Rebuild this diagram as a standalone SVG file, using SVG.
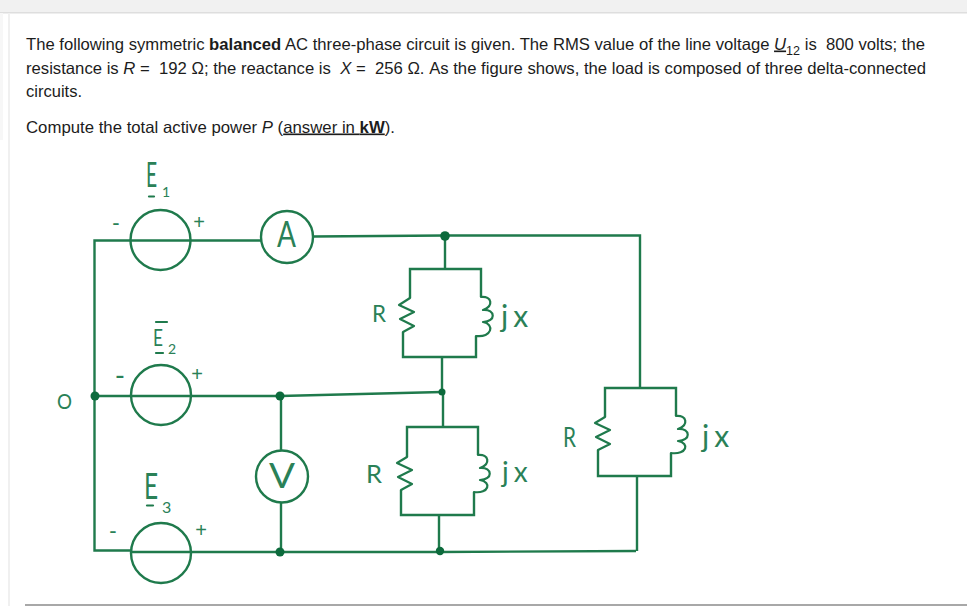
<svg xmlns="http://www.w3.org/2000/svg" width="967" height="606" viewBox="0 0 967 606">
<style>
.t{font-family:"Liberation Sans",Arial,sans-serif;font-size:16.500px;fill:#1c1c1c}
.w{fill:none;stroke:#1f7a4c;stroke-width:2.4;stroke-linejoin:miter}
.c{fill:none;stroke:#1f7a4c;stroke-width:2.2;stroke-linejoin:round;stroke-linecap:round}
.d{fill:#0c6a3c}
.h{font-family:"Lato","Liberation Sans",sans-serif;fill:#2a8157;font-weight:400}
.s{font-family:"Liberation Sans",sans-serif;fill:#2a8157;text-anchor:middle}
</style>
<rect width="967" height="606" fill="#fff"/>
<rect width="967" height="12" fill="#f1f1f1"/>
<rect y="12" width="967" height="1.500" fill="#dedede"/>
<rect x="8" y="13" width="2" height="593" fill="#f0f0f0"/>
<rect x="0" y="13" width="3" height="127" fill="#f7f7f7"/>
<rect x="25" y="604" width="942" height="2" fill="#a8a8a8"/>
<g id="question">
<text class="t" x="26" y="49.500" textLength="899" lengthAdjust="spacingAndGlyphs" xml:space="preserve">The following symmetric <tspan font-weight="700">balanced</tspan> AC three-phase circuit is given. The RMS value of the line voltage <tspan font-style="italic" text-decoration="underline">U</tspan><tspan font-size="12.500" dy="5">12</tspan><tspan dy="-5"> is  800 volts; the</tspan></text>
<text class="t" x="26" y="73.500" textLength="900" lengthAdjust="spacingAndGlyphs" xml:space="preserve">resistance is <tspan font-style="italic">R</tspan> =  192 Ω; the reactance is  <tspan font-style="italic">X</tspan> =  256 Ω. As the figure shows, the load is composed of three delta-connected</text>
<text class="t" x="26" y="97" textLength="56" lengthAdjust="spacingAndGlyphs">circuits.</text>
<text class="t" x="26" y="132.500" textLength="369" lengthAdjust="spacingAndGlyphs">Compute the total active power <tspan font-style="italic">P</tspan> (<tspan text-decoration="underline">answer in <tspan font-weight="700">kW</tspan></tspan>).</text>
</g>
<g id="connectors">
<path class="w" d="M131 240.500H94.500V396M94.500 396V550.500H131"/>
<path class="w" d="M190 240.500H261M313 236.500L445 235.500H640V388"/>
<path class="w" d="M95 396H131M191 396H280L442 392"/>
<path class="w" d="M191 552H280H440L636 551"/>
<path class="w" d="M281 396V451M281 503V552"/>
<path class="w" d="M445 236V269M442 357V392M443 392V427M439 515V551M637 476V551"/>
</g>
<g id="E1"><circle class="w" cx="160.500" cy="240" r="30"/><path class="w" d="M130 240.500H191"/>
<text class="h" transform="translate(146 187) scale(.55 1)" font-size="35">E</text><text class="h" x="162" y="197" font-size="14">1</text><path class="c" d="M149 196.500h5"/>
<text class="s" x="116" y="230" font-size="22">-</text><text class="s" x="199" y="229" font-size="20">+</text></g>
<g id="E2"><circle class="w" cx="161" cy="395" r="30"/><path class="w" d="M131 396H191"/>
<text class="h" transform="translate(153 346) scale(.75 1)" font-size="23">E</text><text class="h" x="168" y="354" font-size="14">2</text><path class="c" d="M156 322h11M156 353h7"/>
<text class="s" x="120" y="384" font-size="28">-</text><text class="s" x="197" y="381" font-size="20">+</text></g>
<g id="E3"><circle class="w" cx="161" cy="553" r="30"/><path class="w" d="M131 552H191"/>
<text class="h" transform="translate(144 499) scale(.68 1)" font-size="36">E</text><text class="h" x="162" y="513" font-size="16">3</text><path class="c" d="M147 505.500h6"/>
<text class="s" x="113" y="538" font-size="22">-</text><text class="s" x="201" y="537" font-size="20">+</text></g>
<g id="A"><circle class="w" cx="287" cy="237" r="26"/><text class="h" x="277" y="247" font-size="37" textLength="19" lengthAdjust="spacingAndGlyphs">A</text></g>
<g id="V"><circle class="w" cx="282" cy="476.500" r="26"/><text class="h" x="269" y="488" font-size="35" textLength="26" lengthAdjust="spacingAndGlyphs">V</text></g>
<g id="O"><text class="h" x="57" y="409" font-size="22" textLength="15" lengthAdjust="spacingAndGlyphs">O</text><circle class="d" cx="95" cy="396" r="4.500"/></g>
<g id="nodes">
<circle class="d" cx="280" cy="396" r="4.500"/><circle class="d" cx="280" cy="552" r="4.500"/>
<circle class="d" cx="445" cy="236" r="4.800"/><circle class="d" cx="442" cy="392" r="3.500"/><circle class="d" cx="440" cy="551" r="4.200"/>
</g>
<g id="load1">
<path class="w" d="M403 332V357H476V336M410 298V269H481V297"/>
<path class="c" d="M410 298L399 305L414 312L400 319L414 326L403 332"/>
<path class="c" d="M481 297C492 296 494 306 483 310C496 309 496 322 483 322C495 324 492 338 476 336"/>
<text class="h" x="372" y="322" font-size="24" textLength="14" lengthAdjust="spacingAndGlyphs">R</text>
<text class="h" x="501" y="327" font-size="30" letter-spacing="5">jx</text>
</g>
<g id="load2">
<path class="w" d="M401 490V515H474V492M407 457V427H478V455"/>
<path class="c" d="M407 457L397 463L412 470L398 477L412 484L401 490"/>
<path class="c" d="M478 455C489 454 491 464 480 468C493 467 493 480 480 480C492 482 489 494 474 492"/>
<text class="h" x="366" y="483" font-size="25" textLength="16" lengthAdjust="spacingAndGlyphs">R</text>
<text class="h" x="502" y="482" font-size="28" letter-spacing="5">jx</text>
</g>
<g id="load3">
<path class="w" d="M598 450V476H671V453M605 417V388H676V416"/>
<path class="c" d="M605 417L595 423L610 430L596 437L610 444L598 450"/>
<path class="c" d="M676 416C687 415 689 425 678 429C691 428 691 441 678 441C690 443 687 455 671 453"/>
<text class="h" x="563" y="447" font-size="26" textLength="13" lengthAdjust="spacingAndGlyphs">R</text>
<text class="h" x="702" y="447" font-size="30" letter-spacing="5">jx</text>
</g>
</svg>
